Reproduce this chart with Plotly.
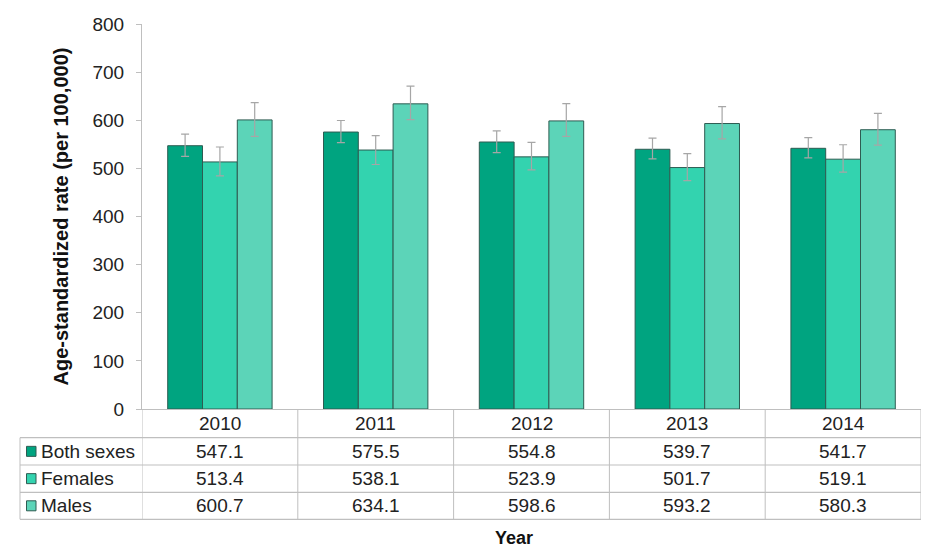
import plotly.graph_objects as go

# data
years = ["2010", "2011", "2012", "2013", "2014"]
series = ["Both sexes", "Females", "Males"]
both = [547.1, 575.5, 554.8, 539.7, 541.7]
females = [513.4, 538.1, 523.9, 501.7, 519.1]
males = [600.7, 634.1, 598.6, 593.2, 580.3]
# confidence interval half-widths (estimated from the error bars)
both_up = [24, 24, 23, 23, 22]
both_dn = [22, 22, 22, 20, 20]
fem_up = [31, 30, 30, 29, 30]
fem_dn = [29, 30, 27, 27, 27]
mal_up = [36, 37, 36, 35, 34]
mal_dn = [34, 33, 32, 32, 32]

colors = ["#00A480", "#33D3AF", "#5CD4B8"]
values = [both, females, males]
err_up = [both_up, fem_up, mal_up]
err_dn = [both_dn, fem_dn, mal_dn]

# page body adds 8px around the figure
OFF = 8
W, H = 914, 542
L, R, T, B = 134, 1, 16, 141
font = "Liberation Sans, Arial, sans-serif"
grid_col = "#BFBFBF"
txt = "#222"
fs = 19
PH = H - T - B
PW = W - L - R


def py(p):
    # screen pixel row -> paper y
    return (H - B - (p - OFF)) / PH


def px(p):
    # screen pixel column -> paper x
    return (p - OFF - L) / PW


fig = go.Figure()
for name, vals, up, dn, col in zip(series, values, err_up, err_dn, colors):
    fig.add_trace(go.Bar(
        x=years, y=vals, name=name,
        marker=dict(color=col, line=dict(color="#2E5C52", width=1)),
        error_y=dict(type="data", symmetric=False, array=up, arrayminus=dn,
                     color="#A6A6A6", thickness=1.2, width=4),
    ))

shapes = []
annotations = []
n = len(years)
row_px = [409, 437.7, 465, 492.3, 519.3]

# vertical table lines at category boundaries
for i in range(n + 1):
    shapes.append(dict(type="line", xref="x", yref="paper",
                       x0=i - 0.5, x1=i - 0.5, y0=py(row_px[0]), y1=py(row_px[-1]),
                       line=dict(color=grid_col, width=1)))
shapes.append(dict(type="line", xref="paper", yref="paper", x0=px(20), x1=px(20),
                   y0=py(row_px[1]), y1=py(row_px[-1]), line=dict(color=grid_col, width=1)))
# horizontal table lines
for r in row_px[1:]:
    shapes.append(dict(type="line", xref="paper", yref="paper", x0=px(20), x1=1,
                       y0=py(r), y1=py(r), line=dict(color=grid_col, width=1.2)))

# year header row
for i, yr in enumerate(years):
    annotations.append(dict(x=i, y=py((row_px[0] + row_px[1]) / 2), xref="x", yref="paper",
                            yanchor="middle", text=yr, showarrow=False,
                            font=dict(size=fs, color=txt)))

# data rows with legend keys
for k, (name, vals, col) in enumerate(zip(series, values, colors)):
    yc = py((row_px[k + 1] + row_px[k + 2]) / 2)
    for i, v in enumerate(vals):
        annotations.append(dict(x=i, y=yc, xref="x", yref="paper", text=f"{v:.1f}",
                                yanchor="middle", showarrow=False,
                                font=dict(size=fs, color=txt)))
    annotations.append(dict(x=px(39), y=yc, xref="paper", yref="paper", text=name,
                            xanchor="left", yanchor="middle", showarrow=False,
                            font=dict(size=fs, color=txt)))
    shapes.append(dict(type="rect", xref="paper", yref="paper",
                       x0=px(26.5), x1=px(36), y0=yc - 5 / PH, y1=yc + 5 / PH,
                       fillcolor=col, line=dict(color="#2E5C52", width=1)))

annotations.append(dict(x=px(514), y=py(538), xref="paper", yref="paper", text="<b>Year</b>",
                        yanchor="middle", showarrow=False, font=dict(size=18, color="#111")))

fig.update_layout(
    width=W, height=H,
    margin=dict(l=L, r=R, t=T, b=B),
    plot_bgcolor="white", paper_bgcolor="white",
    font=dict(family=font, size=fs, color=txt),
    barmode="group", bargap=0.33, bargroupgap=0,
    showlegend=False,
    shapes=shapes, annotations=annotations,
    xaxis=dict(type="category", categoryorder="array", categoryarray=years,
               range=[-0.5, n - 0.5], autorange=False,
               showticklabels=False, ticks="", showline=True,
               linecolor=grid_col, showgrid=False, zeroline=False),
    yaxis=dict(range=[0, 800], dtick=100, showgrid=False, zeroline=False,
               showline=True, linecolor=grid_col, ticks="outside", ticklen=5,
               tickcolor=grid_col, tickfont=dict(size=fs, color=txt),
               ticklabelstandoff=8,
               title=dict(text="<b>Age-standardized rate (per 100,000)</b>",
                          font=dict(size=20, color="#111"), standoff=18)),
)

fig.write_html("out.html")
